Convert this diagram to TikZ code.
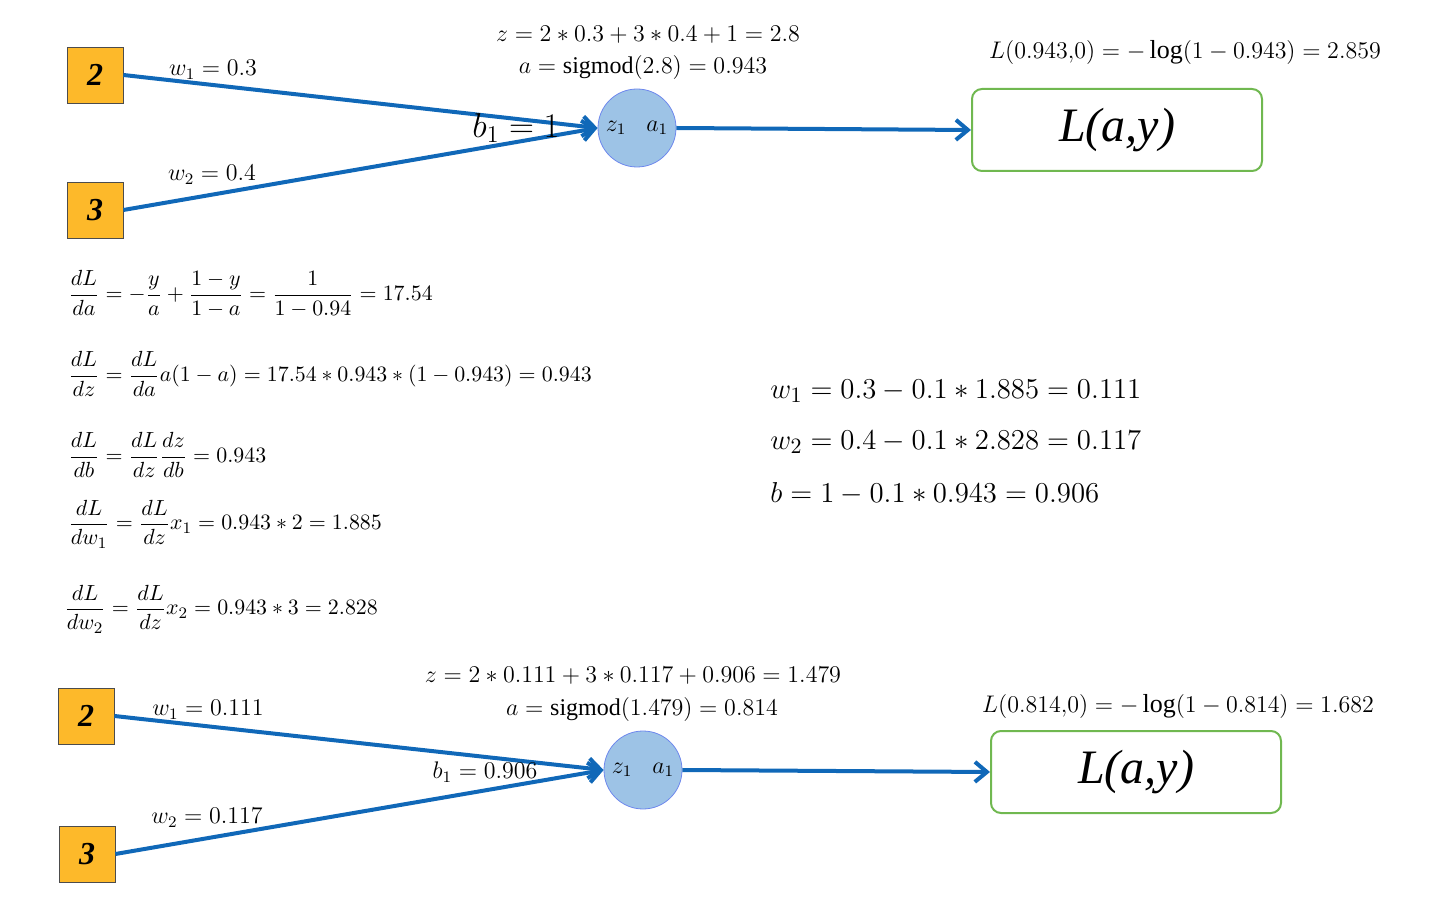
\documentclass[tikz,border=0pt]{standalone}
\usepackage{fontspec}
\usepackage{amsmath}
\setmainfont{Liberation Serif}
\usetikzlibrary{arrows.meta}
\definecolor{boxor}{HTML}{FDB92A}
\definecolor{neur}{HTML}{9DC3E6}
\definecolor{lineblue}{HTML}{1068B8}
\definecolor{lgreen}{HTML}{70B850}
\begin{document}
\begin{tikzpicture}[x=0.5pt,y=-0.5pt,
  inbox/.style={draw=black!70,fill=boxor,minimum size=28pt,inner sep=0pt,font=\fontsize{16}{16}\selectfont\bfseries\itshape},
  neuron/.style={circle,draw=neur!70!blue,fill=neur,minimum size=39pt,inner sep=0pt},
  lossbox/.style={draw=lgreen,line width=1pt,rounded corners=5pt,minimum width=145pt,minimum height=41pt,font=\fontsize{24}{24}\selectfont\itshape},
  conn/.style={line width=2pt,draw=lineblue,-{Straight Barb[length=6pt,width=10pt]}},
  lbl/.style={font=\fontsize{12}{14}\selectfont},
  eq/.style={font=\fontsize{11}{13}\selectfont,anchor=west,inner sep=0pt}]
\useasboundingbox (0,0) rectangle (1446,897);
% top network
\node[inbox] (a2) at (95,75) {2};
\node[inbox] (a3) at (95,210) {3};
\node[neuron] (n1) at (637,128) {};
\node[lossbox] (L1) at (1117,130) {L(a,y)};
\node[lbl] (z1) at (n1.center) {$z_1\;\;\; a_1$};
\draw[conn] (a2.east) -- (n1.west);
\draw[conn] (a3.east) -- (n1.west);
\draw[conn] (n1.east) -- (L1.west);
\node[lbl] (w1) at (213,70) {$w_1=0.3$};
\node[lbl] (w2) at (212,175) {$w_2=0.4$};
\node[font=\fontsize{17}{17}\selectfont] (b1) at (516,128) {$b_1=1$};
\node[lbl] (zt) at (648,35) {$z=2*0.3+3*0.4+1=2.8$};
\node[lbl] (at) at (643,68) {$a=\mathrm{sigmod}(2.8)=0.943$};
\node[lbl,font=\fontsize{13}{15}\selectfont] (lt) at (1185,52) {$L(0.943{,}0)=-\log(1-0.943)=2.859$};
% derivatives
\node[eq] (d1) at (68,294) {$\dfrac{dL}{da}=-\dfrac{y}{a}+\dfrac{1-y}{1-a}=\dfrac{1}{1-0.94}=17.54$};
\node[eq] (d2) at (68,374) {$\dfrac{dL}{dz}=\dfrac{dL}{da}a(1-a)=17.54*0.943*(1-0.943)=0.943$};
\node[eq] (d3) at (68,455) {$\dfrac{dL}{db}=\dfrac{dL}{dz}\dfrac{dz}{db}=0.943$};
\node[eq] (d4) at (68,524) {$\dfrac{dL}{dw_1}=\dfrac{dL}{dz}x_1=0.943*2=1.885$};
\node[eq] (d5) at (64,609) {$\dfrac{dL}{dw_2}=\dfrac{dL}{dz}x_2=0.943*3=2.828$};
\node[eq,font=\fontsize{15}{17}\selectfont] (u1) at (770,391) {$w_1=0.3-0.1*1.885=0.111$};
\node[eq,font=\fontsize{15}{17}\selectfont] (u2) at (770,442) {$w_2=0.4-0.1*2.828=0.117$};
\node[eq,font=\fontsize{15}{17}\selectfont] (u3) at (770,494) {$b=1-0.1*0.943=0.906$};
% bottom network
\node[inbox] (c2) at (86,716) {2};
\node[inbox] (c3) at (87,854) {3};
\node[neuron] (n2) at (643,770) {};
\node[lossbox] (L2) at (1136,772) {L(a,y)};
\node[lbl] (z2) at (n2.center) {$z_1\;\;\; a_1$};
\draw[conn] (c2.east) -- (n2.west);
\draw[conn] (c3.east) -- (n2.west);
\draw[conn] (n2.east) -- (L2.west);
\node[lbl] (w1b) at (208,710) {$w_1=0.111$};
\node[lbl] (w2b) at (207,818) {$w_2=0.117$};
\node[lbl] (b2) at (485,772) {$b_1=0.906$};
\node[lbl] (zb) at (633,676) {$z=2*0.111+3*0.117+0.906=1.479$};
\node[lbl] (ab) at (642,710) {$a=\mathrm{sigmod}(1.479)=0.814$};
\node[lbl,font=\fontsize{13}{15}\selectfont] (lb) at (1178,706) {$L(0.814{,}0)=-\log(1-0.814)=1.682$};
\end{tikzpicture}
\end{document}
